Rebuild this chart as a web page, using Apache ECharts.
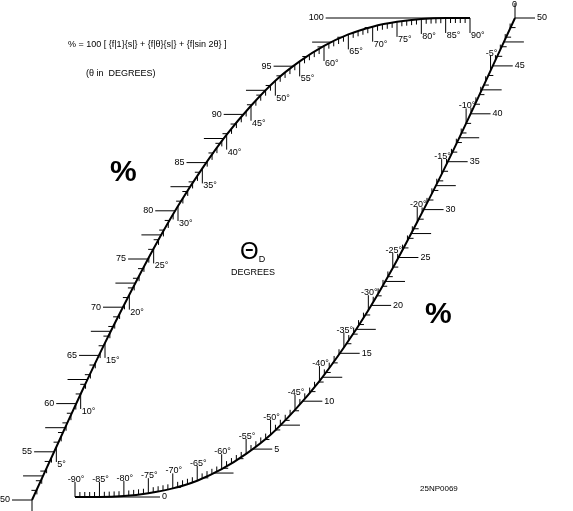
<!DOCTYPE html>
<html>
<head>
<meta charset="utf-8">
<script src="https://cdn.jsdelivr.net/npm/echarts@6/dist/echarts.min.js"></script>
</head>
<body style="margin:0;background:#fff">
<div id="main" style="width:573px;height:511px;"></div>
<script type="text/javascript">
    // left scale: theta 0..90 deg, percent 50..100 (every 5 deg)
    var thetaLeft = [0, 5, 10, 15, 20, 25, 30, 35, 40, 45, 50, 55, 60, 65, 70, 75, 80, 85, 90];
    var pctLeft = [50, 55.5, 61.0, 66.3, 71.3, 76.1, 80.5, 84.4, 87.9, 90.9, 93.5, 95.5, 97.1, 98.3, 99.1, 99.6, 99.9, 100, 100];
    // right scale: theta -90..0 deg, percent 0..50
    var thetaRight = [-90, -85, -80, -75, -70, -65, -60, -55, -50, -45, -40, -35, -30, -25, -20, -15, -10, -5, 0];
    var pctRight = [0, 0, 0.1, 0.4, 0.9, 1.7, 2.9, 4.5, 6.5, 9.1, 12.1, 15.6, 19.5, 23.9, 28.7, 33.7, 39.0, 44.5, 50];
    var pctLabelsLeft = [50, 55, 60, 65, 70, 75, 80, 85, 90, 95, 100];
    var pctLabelsRight = [0, 5, 10, 15, 20, 25, 30, 35, 40, 45, 50];

    var FONT = 'Liberation Sans, Arial, sans-serif';

    function lerp(xs, ys, x) {
        for (var i = 0; i < xs.length - 1; i++) {
            if (x >= xs[i] && x <= xs[i + 1]) {
                var d = xs[i + 1] - xs[i];
                return d === 0 ? ys[i] : ys[i] + (ys[i + 1] - ys[i]) * (x - xs[i]) / d;
            }
        }
        return ys[ys.length - 1];
    }
    function invLerp(xs, ys, y) {
        for (var i = 0; i < ys.length - 1; i++) {
            if (y >= ys[i] && y <= ys[i + 1]) {
                var d = ys[i + 1] - ys[i];
                return d === 0 ? xs[i] : xs[i] + (xs[i + 1] - xs[i]) * (y - ys[i]) / d;
            }
        }
        return xs[xs.length - 1];
    }

    // tick items: [theta, pct, dx, dy, label, side]
    var ticksLeft = [], ticksRight = [];
    for (var t = 0; t <= 90; t++) {
        var major = t % 5 === 0;
        ticksLeft.push([t, lerp(thetaLeft, pctLeft, t), 0, major ? 15 : 5, major ? t + '°' : '', 'below']);
    }
    for (var p = 50; p <= 100; p += 0.5) {
        var isMajor = pctLabelsLeft.indexOf(p) >= 0;
        var half = p % 2.5 === 0;
        var len = p === 100 ? 120 : (isMajor || half ? 20 : (p % 1 === 0 ? 5 : 0));
        if (!len) continue;
        ticksLeft.push([invLerp(thetaLeft, pctLeft, p), p, -len, 0, isMajor ? String(p) : '', 'left']);
    }
    for (var t2 = -90; t2 <= 0; t2++) {
        var mj = t2 % 5 === 0;
        ticksRight.push([t2, lerp(thetaRight, pctRight, t2), 0, mj ? -15 : -5, mj && t2 !== 0 ? t2 + '°' : '', 'above']);
    }
    for (var q = 0; q <= 50; q += 0.5) {
        var qm = pctLabelsRight.indexOf(q) >= 0;
        var qh = q % 2.5 === 0;
        var ql = q === 0 ? 85 : (qm || qh ? 20 : (q % 1 === 0 ? 5 : 0));
        if (!ql) continue;
        ticksRight.push([q === 0 ? -90 : invLerp(thetaRight, pctRight, q), q, ql, 0, qm ? String(q) : '', 'right']);
    }

    function renderTick(params, api) {
        var pt = api.coord([api.value(0), api.value(1)]);
        var dx = api.value(2), dy = api.value(3);
        var label = ticksLeft.concat(ticksRight)[0] && params.seriesIndex === 2 ? ticksLeft[params.dataIndex] : ticksRight[params.dataIndex];
        var txt = label[4], side = label[5];
        var end = [pt[0] + dx, pt[1] + dy];
        var children = [{
            type: 'line',
            shape: { x1: pt[0], y1: pt[1], x2: end[0], y2: end[1] },
            style: { stroke: '#000', lineWidth: 1 }
        }];
        if (txt) {
            var ts = { text: txt, fill: '#000', font: '9px ' + FONT };
            if (side === 'below') { ts.x = end[0] + 1; ts.y = end[1] - 2; ts.align = 'left'; ts.verticalAlign = 'top'; }
            if (side === 'above') { ts.x = end[0] + 1; ts.y = end[1] + 2; ts.align = 'center'; ts.verticalAlign = 'bottom'; }
            if (side === 'left') { ts.x = end[0] - 2; ts.y = end[1]; ts.align = 'right'; ts.verticalAlign = 'middle'; }
            if (side === 'right') { ts.x = end[0] + 2; ts.y = end[1]; ts.align = 'left'; ts.verticalAlign = 'middle'; }
            children.push({ type: 'text', style: ts });
        }
        return { type: 'group', children: children };
    }

    var myChart = echarts.init(document.getElementById('main'));
    var hidden = { show: false };
    var option = {
        backgroundColor: '#fff',
        animation: false,
        grid: [
            { left: 32, width: 438, top: 18, height: 482 },
            { left: 75, width: 440, top: 18, height: 479 }
        ],
        xAxis: [
            { type: 'value', gridIndex: 0, min: 0, max: 90, axisLine: hidden, axisTick: hidden, axisLabel: hidden, splitLine: hidden },
            { type: 'value', gridIndex: 1, min: -90, max: 0, axisLine: hidden, axisTick: hidden, axisLabel: hidden, splitLine: hidden }
        ],
        yAxis: [
            { type: 'value', gridIndex: 0, min: 50, max: 100, axisLine: hidden, axisTick: hidden, axisLabel: hidden, splitLine: hidden },
            { type: 'value', gridIndex: 1, min: 0, max: 50, axisLine: hidden, axisTick: hidden, axisLabel: hidden, splitLine: hidden }
        ],
        series: [
            { type: 'line', xAxisIndex: 0, yAxisIndex: 0, smooth: 0.3, symbol: 'none', clip: false,
              lineStyle: { color: '#000', width: 2 }, data: thetaLeft.map(function (v, i) { return [v, pctLeft[i]]; }) },
            { type: 'line', xAxisIndex: 1, yAxisIndex: 1, smooth: 0.3, symbol: 'none', clip: false,
              lineStyle: { color: '#000', width: 2 }, data: thetaRight.map(function (v, i) { return [v, pctRight[i]]; }) },
            { type: 'custom', xAxisIndex: 0, yAxisIndex: 0, clip: false, renderItem: renderTick, data: ticksLeft.map(function (d) { return d.slice(0, 4); }) },
            { type: 'custom', xAxisIndex: 1, yAxisIndex: 1, clip: false, renderItem: renderTick, data: ticksRight.map(function (d) { return d.slice(0, 4); }) }
        ],
        graphic: [
            { type: 'text', left: 68, top: 40, style: {
                text: '% = 100 [ {f|1}{s|} + {f|θ}{s|} + {f|sin 2θ} ]', fill: '#000', font: '9px ' + FONT } },
            { type: 'text', left: 96, top: 38, style: { text: '1\n2', fill: '#000', font: '8px ' + FONT, align: 'center' }, invisible: true },
            { type: 'text', left: 86, top: 69, style: { text: '(θ in  DEGREES)', fill: '#000', font: '9px ' + FONT } },
            { type: 'text', left: 110, top: 158, style: { text: '%', fill: '#000', font: 'bold 30px ' + FONT } },
            { type: 'text', left: 425, top: 300, style: { text: '%', fill: '#000', font: 'bold 30px ' + FONT } },
            { type: 'text', left: 240, top: 240, style: { text: '{a|Θ}{b|D}', rich: { a: { font: '24px ' + FONT, fill: '#000' }, b: { font: '9px ' + FONT, fill: '#000', verticalAlign: 'bottom', padding: [12, 0, 0, 0] } } } },
            { type: 'text', left: 231, top: 268, style: { text: 'DEGREES', fill: '#000', font: '9px ' + FONT } },
            { type: 'text', left: 420, top: 485, style: { text: '25NP0069', fill: '#000', font: '8px ' + FONT } },
            { type: 'text', left: 512, top: 0, style: { text: '0', fill: '#000', font: '9px ' + FONT } }
        ]
    };
    myChart.setOption(option);
</script>
</body>
</html>
